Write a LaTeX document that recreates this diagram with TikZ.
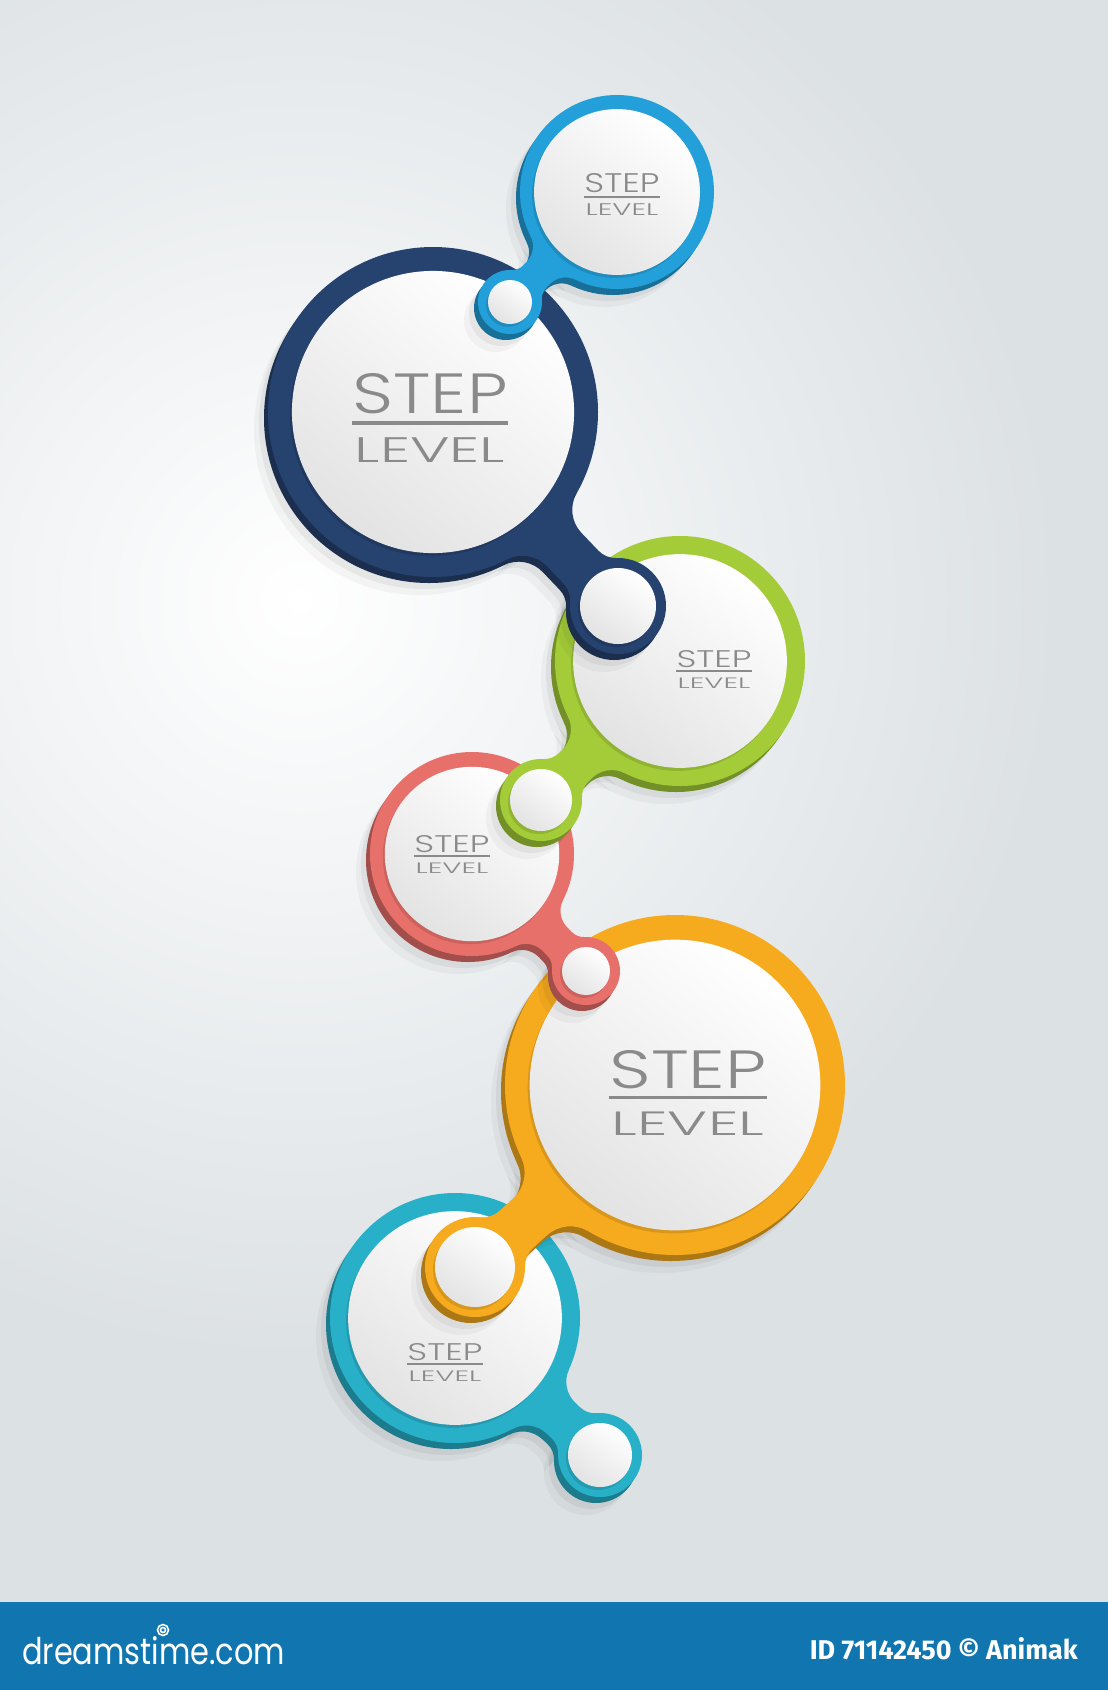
\documentclass[tikz,border=0pt]{standalone}
\usepackage{fontspec}
\usepackage{graphicx}
\usetikzlibrary{calc}
\newfontfamily\stepfont{Poppins}[UprightFont={* Light}]
\newfontfamily\brandfont{Poppins}
\newfontfamily\barfont{Fira Sans}
\definecolor{bgcol}{RGB}{220,225,228}
\definecolor{cblue}{RGB}{35,160,218}
\definecolor{cnavy}{RGB}{38,66,110}
\definecolor{cgreen}{RGB}{164,204,57}
\definecolor{csalmon}{RGB}{232,112,106}
\definecolor{corange}{RGB}{246,171,30}
\definecolor{cteal}{RGB}{40,176,200}
\definecolor{barblue}{RGB}{17,118,176}
\definecolor{txtgray}{RGB}{138,138,138}

% neck with straight sides and filleted ends, joining the big circle to the small one
\newcommand\bfill[1]{%
  \fill[#1] (\bn) circle[radius=\bR];
  \fill[#1] (\bn-s) circle[radius=\br];
  \fill[#1] (\bn-p1) .. controls ($(\bn-p1)+(\th+\da-90:\ka)$) and ($(\bn-l1)+(\th+180:\ka)$) .. (\bn-l1)
     -- (\bn-l2) .. controls ($(\bn-l2)+(\th:\kb)$) and ($(\bn-p2)+(\th+270-\db:\kb)$) .. (\bn-p2)
     -- (\bn-q2) .. controls ($(\bn-q2)+(\th+90+\db:\kb)$) and ($(\bn-m2)+(\th:\kb)$) .. (\bn-m2)
     -- (\bn-m1) .. controls ($(\bn-m1)+(\th+180:\ka)$) and ($(\bn-q1)+(\th-\da+90:\ka)$) .. (\bn-q1)
     -- cycle;
}
% #1 name, #2 #3 big centre, #4 big radius, #5 #6 small centre, #7 small radius, #8 colour
\newcommand\bubble[8]{%
  \pgfmathsetmacro\th{atan2((#6)-(#3),(#5)-(#2))}%
  \pgfmathsetmacro\nw{0.5*(#7)}%
  \pgfmathsetmacro\fa{0.7*(#7)}%
  \pgfmathsetmacro\fb{0.5*(#7)}%
  \pgfmathsetmacro\ta{sqrt((#4)-\nw)*sqrt((#4)+2*\fa+\nw)}%
  \pgfmathsetmacro\tb{sqrt((#7)-\nw)*sqrt((#7)+2*\fb+\nw)}%
  \pgfmathsetmacro\da{atan2(\nw+\fa,\ta)}%
  \pgfmathsetmacro\db{atan2(\nw+\fb,\tb)}%
  \pgfmathsetmacro\ka{4/3*tan((90-\da)/4)*\fa}%
  \pgfmathsetmacro\kb{4/3*tan((90-\db)/4)*\fb}%
  \def\bn{#1}\def\bR{#4}\def\br{#7}%
  \coordinate (#1) at (#2,#3);
  \coordinate (#1-s) at (#5,#6);
  \coordinate (#1-p1) at ($(#1)+(\th+\da:#4)$);
  \coordinate (#1-q1) at ($(#1)+(\th-\da:#4)$);
  \coordinate (#1-l1) at ($(#1)+(\th:\ta)+(\th+90:\nw)$);
  \coordinate (#1-m1) at ($(#1)+(\th:\ta)+(\th-90:\nw)$);
  \coordinate (#1-l2) at ($(#1-s)+(\th+180:\tb)+(\th+90:\nw)$);
  \coordinate (#1-m2) at ($(#1-s)+(\th+180:\tb)+(\th-90:\nw)$);
  \coordinate (#1-p2) at ($(#1-s)+(\th+180-\db:#7)$);
  \coordinate (#1-q2) at ($(#1-s)+(\th+180+\db:#7)$);
  \begin{scope}[transform canvas={shift={(-14,18)}}]\bfill{black,opacity=0.035}\end{scope}
  \begin{scope}[transform canvas={shift={(-9,12)}}]\bfill{black,opacity=0.05}\end{scope}
  \begin{scope}[transform canvas={shift={(-4,6)}}]\bfill{#8!70!black}\end{scope}
  \bfill{#8}
  \fill[black,opacity=0.12] ($(#1)+(-2,3)$) circle[radius={0.855*#4}];
  \shade[top color=white, bottom color=gray!22, shading angle=-35] (#1) circle[radius={0.855*#4}];
  \fill[black,opacity=0.12] ($(#1-s)+(-2,3)$) circle[radius={#7-10}];
  \shade[top color=white, bottom color=gray!22, shading angle=-35] (#1-s) circle[radius={#7-10}];
}
% #1 name, #2 centre x, #3 top y, #4 width, #5 cap height
\newcommand\steplabel[5]{%
  \pgfmathsetmacro\lvw{0.97*#4}%
  \pgfmathsetmacro\lvh{0.62*#5}%
  \pgfmathsetmacro\lny{#3+1.25*#5}%
  \pgfmathsetmacro\lvy{#3+1.62*#5}%
  \pgfmathsetmacro\lnw{0.1*#5}%
  \node[labeltext, anchor=north] (#1-step) at (#2,#3) {\resizebox{#4pt}{#5pt}{\stepfont STEP}};
  \node[labeltext, anchor=north] (#1-level) at (#2,\lvy) {\resizebox{\lvw pt}{\lvh pt}{\stepfont LEVEL}};
  \draw[txtgray, line width=\lnw pt] (#1-step.west |- 0,\lny) -- (#1-step.east |- 0,\lny);
}

\begin{document}
\begin{tikzpicture}[x=1pt,y=-1pt, labeltext/.style={inner sep=0, text=txtgray}]
\useasboundingbox (0,0) rectangle (1108,1690);
\fill[bgcol] (0,0) rectangle (1108,1602);
\begin{scope}
  \clip (0,0) rectangle (1108,1602);
  \shade[inner color=white, outer color=bgcol] (300,600) circle[radius=760];
\end{scope}

\bubble{teal}{455}{1318}{125}{600}{1455}{42}{cteal}
\bubble{orange}{675}{1085}{170}{475}{1267}{50}{corange}
\bubble{salmon}{472}{854}{102}{586}{971}{34}{csalmon}
\bubble{green}{680}{661}{125}{541}{800}{41}{cgreen}
\bubble{navy}{433}{412}{165}{618}{606}{48}{cnavy}
\bubble{blue}{617}{192}{97}{510}{302}{32}{cblue}

\steplabel{lblue}{622}{173}{75}{19}
\steplabel{lnavy}{430}{373}{155}{40}
\steplabel{lgreen}{714}{650}{75}{17}
\steplabel{lsalmon}{452}{835}{75}{17}
\steplabel{lorange}{688}{1050}{157}{38}
\steplabel{lteal}{445}{1343}{75}{17}

\fill[barblue] (0,1602) rectangle (1108,1690);
\node[anchor=west, inner sep=0, text=white] (brand) at (22,1651) {\resizebox{263pt}{28pt}{\brandfont dreamstime.com}};
\draw[white, line width=1.6pt] (163,1630) circle[radius=5.5] (163,1630) circle[radius=2.5];
\node[anchor=east, inner sep=0, text=white] (credit) at (1078,1649) {\resizebox{268pt}{22pt}{\barfont\bfseries ID 71142450 © Animak}};
\end{tikzpicture}
\end{document}
